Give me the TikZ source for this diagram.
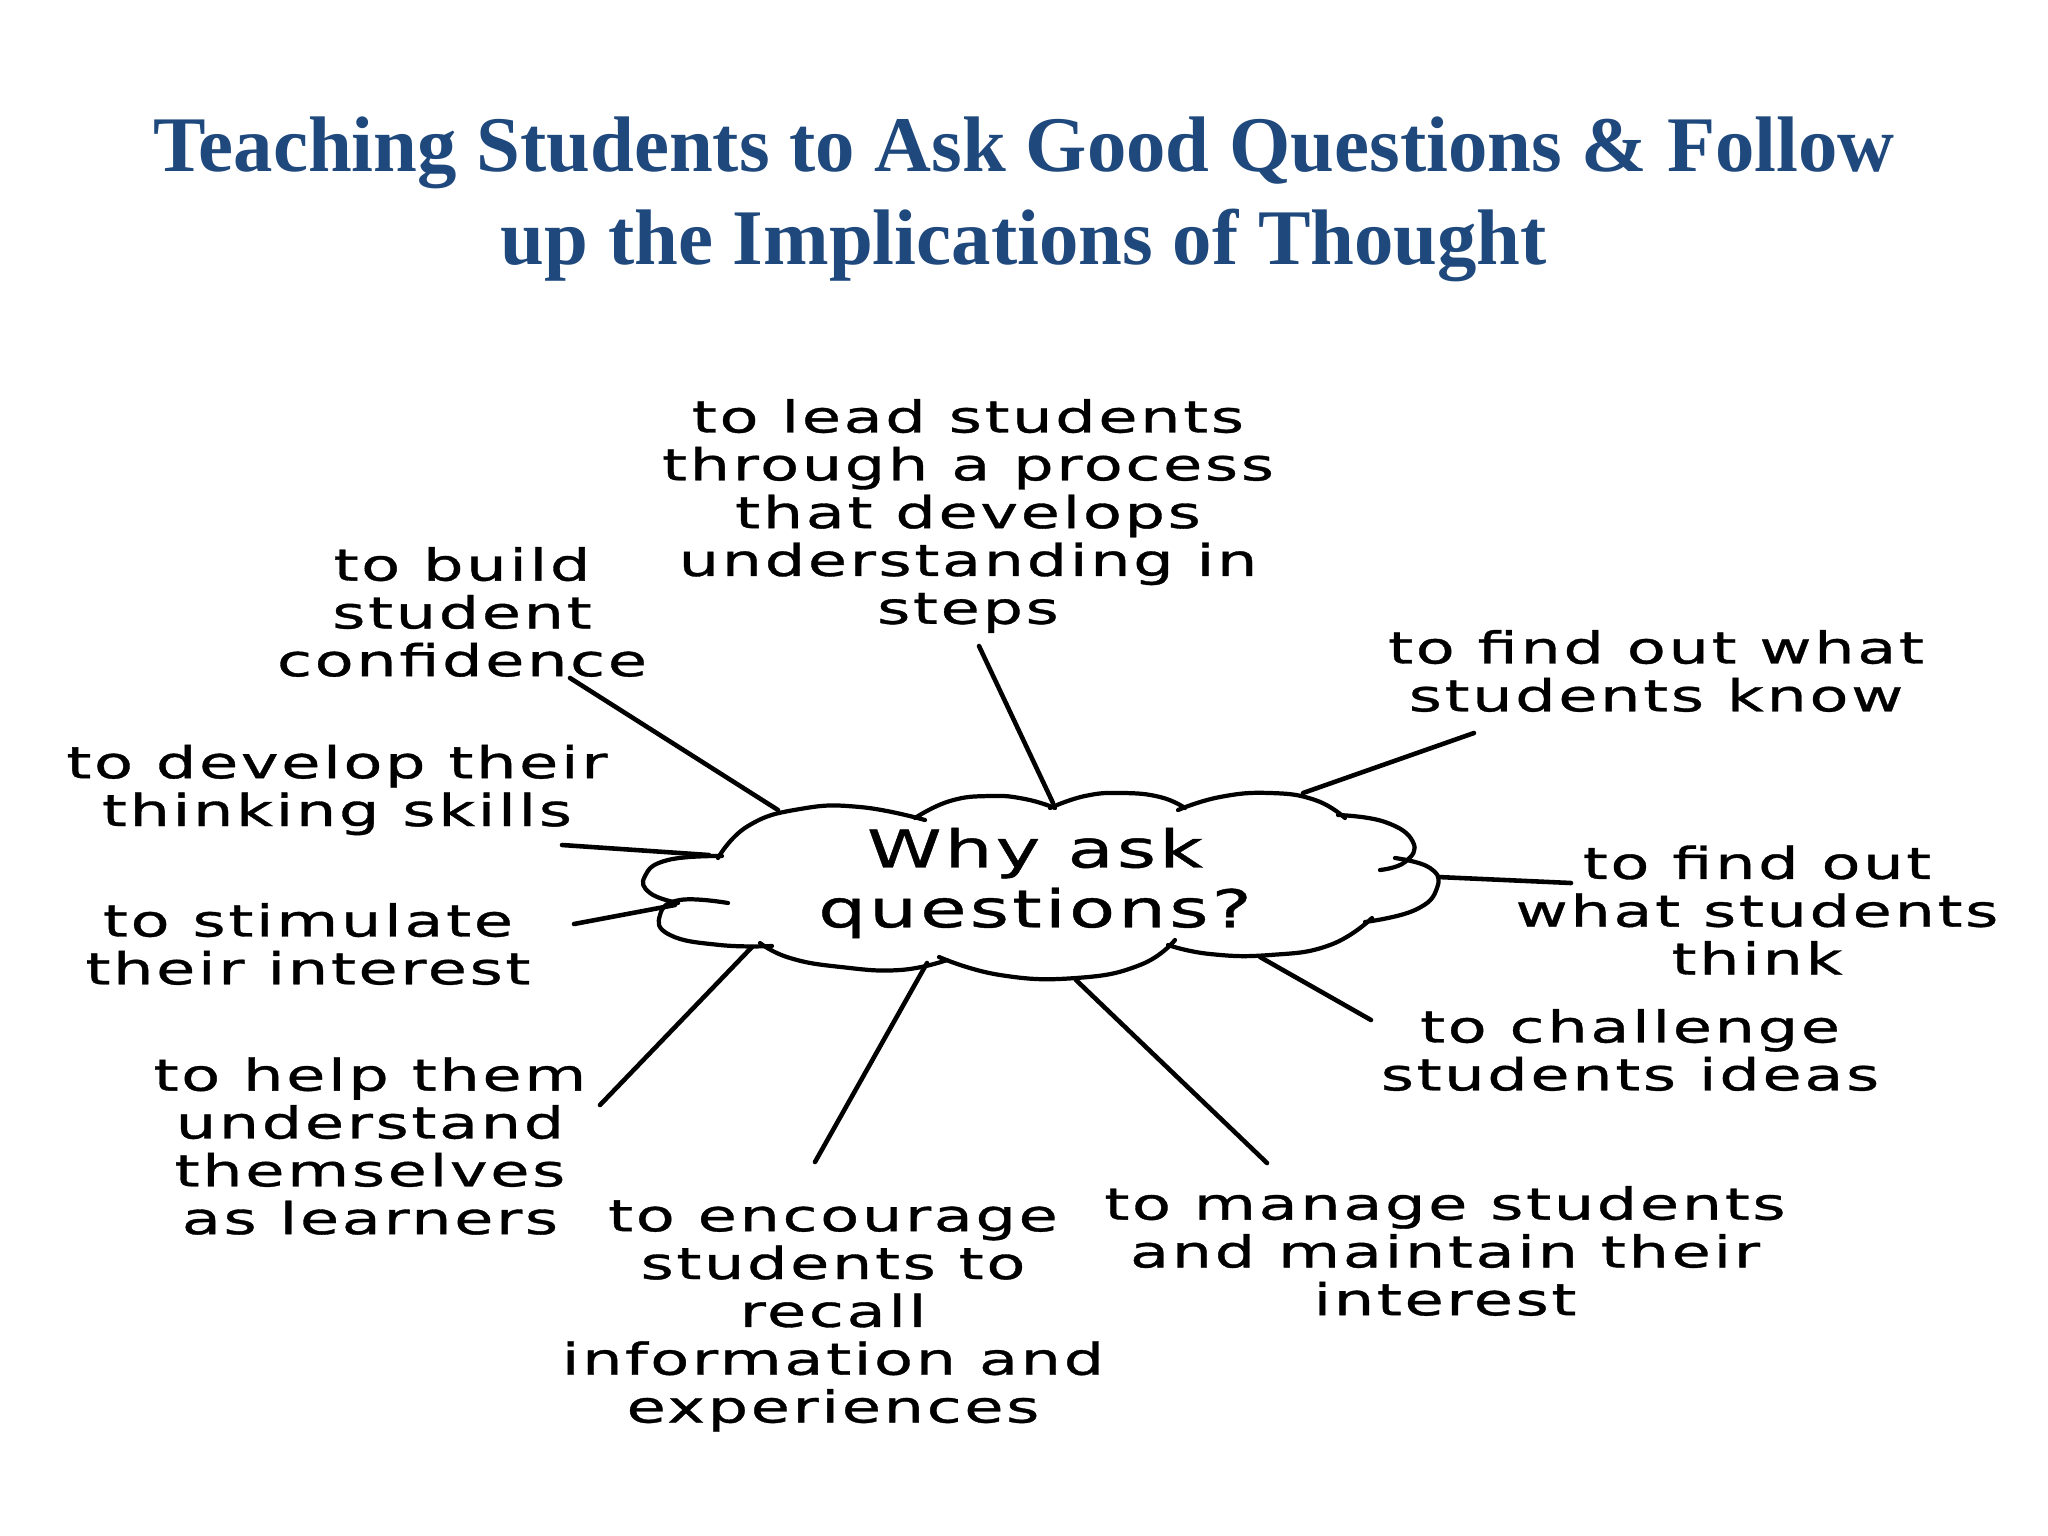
\documentclass[tikz,border=0pt]{standalone}
\usepackage{fontspec}
\setmainfont{Liberation Serif}
\newfontfamily\handfont[FakeStretch=1.45,LetterSpace=6,FakeBold=0.8]{DejaVu Sans}
\definecolor{titleblue}{HTML}{1F497D}
\begin{document}
\begin{tikzpicture}[x=0.01cm,y=-0.01cm,
  hand/.style={font={\handfont\fontsize{12.5}{13.6}\selectfont}, align=center, inner sep=0pt},
  cloudtext/.style={font={\handfont\fontsize{14.8}{17}\selectfont}, align=center, inner sep=0pt},
  conn/.style={line width=1.3pt, line cap=round},
  cloudline/.style={line width=1.2pt, line join=round, line cap=round}]
\useasboundingbox (0,0) rectangle (2048,1536);
\fill[white] (0,0) rectangle (2048,1536);

% title
\node[font={\bfseries\fontsize{22.4}{26.5}\selectfont}, text=titleblue, align=center, inner sep=0pt]
  (title) at (1024,199) {Teaching Students to Ask Good Questions \& Follow\\up the Implications of Thought};

% cloud
\draw[cloudline]
  plot[smooth, tension=0.8] coordinates {(718,858) (748,826) (800,809) (860,807) (925,820)}
  plot[smooth, tension=0.8] coordinates {(915,818) (950,801) (990,796) (1025,799) (1055,808)}
  plot[smooth, tension=0.8] coordinates {(1050,808) (1085,796) (1122,793) (1160,797) (1185,808)}
  plot[smooth, tension=0.8] coordinates {(1178,810) (1220,797) (1270,793) (1315,800) (1345,818)}
  plot[smooth, tension=0.8] coordinates {(1338,815) (1385,822) (1413,842) (1405,862) (1380,870)};
\draw[cloudline]
  plot[smooth, tension=0.8] coordinates {(1395,858) (1430,868) (1437,888) (1415,910) (1365,922)}
  plot[smooth, tension=0.8] coordinates {(1372,918) (1330,945) (1270,955) (1210,954) (1168,945)};
\draw[cloudline]
  plot[smooth, tension=0.8] coordinates {(1175,940) (1140,965) (1076,978) (1000,975) (939,957)};
\draw[cloudline]
  plot[smooth, tension=0.8] coordinates {(947,960) (900,970) (841,967) (790,958) (760,943)};
\draw[cloudline]
  plot[smooth, tension=0.8] coordinates {(772,946) (720,945) (670,935) (660,915) (680,900) (728,903)};
\draw[cloudline]
  plot[smooth, tension=0.8] coordinates {(678,903) (650,893) (645,876) (668,860) (722,856)};

\node[cloudtext] (why) at (1035,883) {Why ask\\questions?};

% labels
\node[hand] (lead) at (968,516) {to lead students\\through a process\\that develops\\understanding in\\steps};
\node[hand] (build) at (462,612) {to build\\student\\confidence};
\node[hand] (develop) at (337,790) {to develop their\\thinking skills};
\node[hand] (stim) at (308,944) {to stimulate\\their interest};
\node[hand] (help) at (370,1146) {to help them\\understand\\themselves\\as learners};
\node[hand] (enc) at (833,1316) {to encourage\\students to\\recall\\information and\\experiences};
\node[hand] (manage) at (1445,1251) {to manage students\\and maintain their\\interest};
\node[hand] (chal) at (1630,1050) {to challenge\\students ideas};
\node[hand] (think) at (1757,910) {to find out\\what students\\think};
\node[hand] (know) at (1656,671) {to find out what\\students know};

% connector ends
\coordinate (a1) at (979,646);  \coordinate (b1) at (1053,803);
\coordinate (a2) at (570,678);  \coordinate (b2) at (778,810);
\coordinate (a3) at (562,845);  \coordinate (b3) at (709,855);
\coordinate (a4) at (574,924);  \coordinate (b4) at (675,905);
\coordinate (a5) at (600,1105); \coordinate (b5) at (752,947);
\coordinate (a6) at (815,1162); \coordinate (b6) at (927,963);
\coordinate (a7) at (1267,1163);\coordinate (b7) at (1076,980);
\coordinate (a8) at (1371,1020);\coordinate (b8) at (1260,957);
\coordinate (a9) at (1571,883); \coordinate (b9) at (1438,877);
\coordinate (a10) at (1474,733);\coordinate (b10) at (1303,793);
\foreach \i in {1,...,10} {\draw[conn] (a\i) -- (b\i);}
\end{tikzpicture}
\end{document}
